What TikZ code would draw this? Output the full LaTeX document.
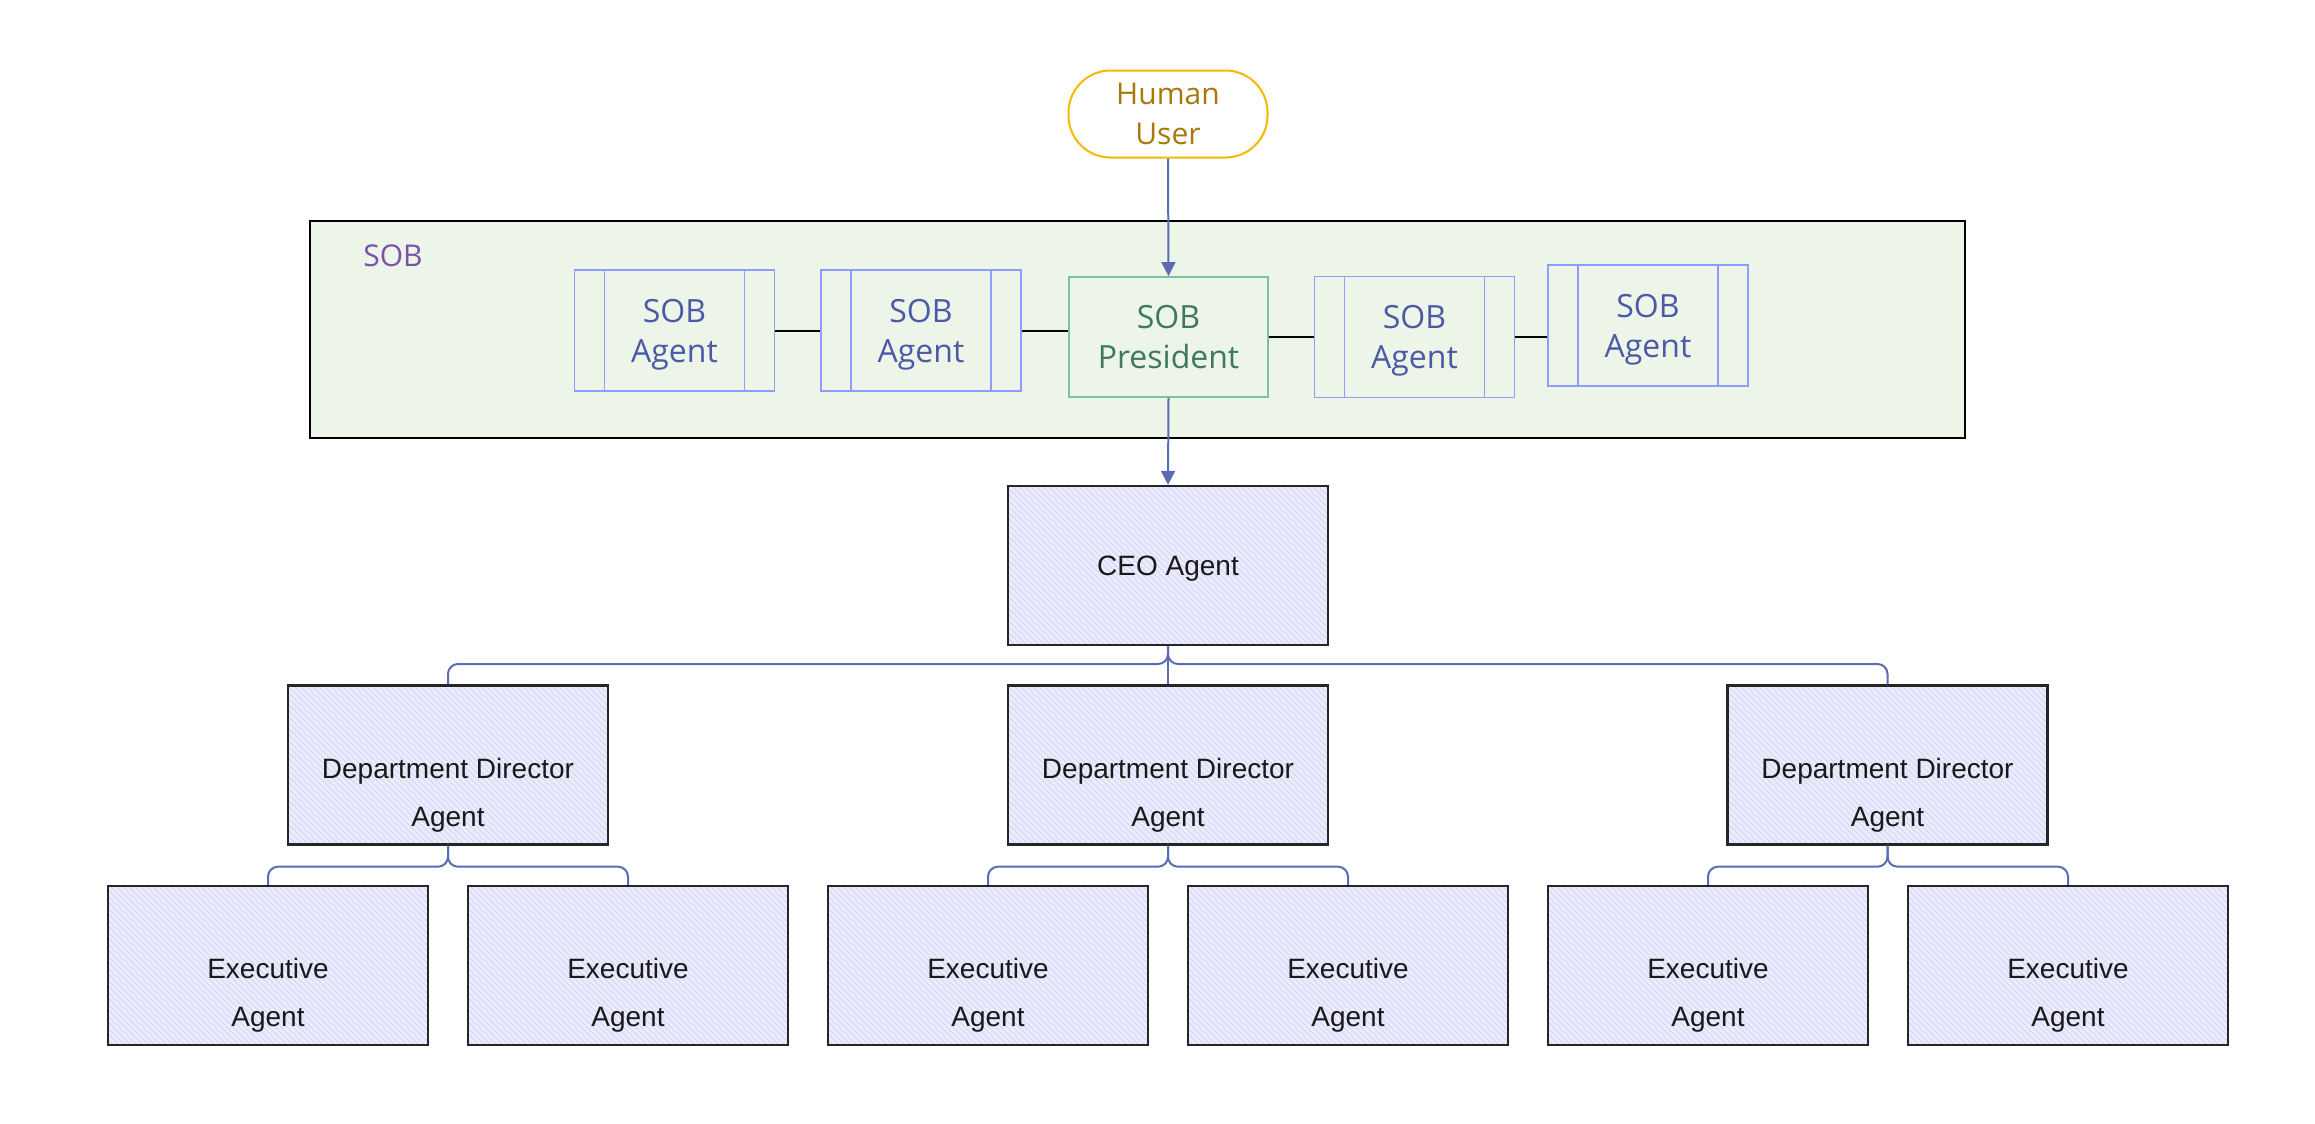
\documentclass[tikz,border=0pt]{standalone}
\usepackage{fontspec}
\setmainfont{Liberation Sans}
\newfontfamily\sobfont{Open Sans}
\usetikzlibrary{patterns,arrows.meta}
\definecolor{conn}{HTML}{5B6BB5}
\definecolor{hatchfill}{HTML}{ECECFF}
\definecolor{hatchline}{HTML}{D6D6F2}
\definecolor{agentb}{HTML}{8C9EFF}
\definecolor{agentt}{HTML}{4B5AA8}
\definecolor{presb}{HTML}{7DC2A0}
\definecolor{prest}{HTML}{3E7A5A}
\definecolor{sobfill}{HTML}{EDF5E8}
\definecolor{userb}{HTML}{F5B800}
\definecolor{usert}{HTML}{A8780A}
\definecolor{sobl}{HTML}{7B52AB}
\begin{document}
\begin{tikzpicture}[x=0.5pt,y=-0.5pt,
  hbox/.style={draw=black!85,line width=1.2pt,
    preaction={fill=hatchfill},
    preaction={pattern=north west lines,pattern color=hatchline},
    minimum width=160pt,minimum height=79.5pt,inner sep=0pt,align=center,
    font=\fontsize{14}{24}\selectfont,text=black!90},
  sag/.style={draw=agentb,line width=0.9pt,minimum width=100pt,minimum height=60.5pt,
    inner sep=0pt,align=center,font=\sobfont\fontsize{16}{20}\selectfont,text=agentt,
    path picture={\draw[agentb,line width=0.9pt]
      ([xshift=15pt]path picture bounding box.north west)--([xshift=15pt]path picture bounding box.south west)
      ([xshift=-15pt]path picture bounding box.north east)--([xshift=-15pt]path picture bounding box.south east);}},
  tree/.style={draw=conn,line width=1pt,rounded corners=5pt},
  arr/.style={draw=conn,line width=1pt,-{Triangle[length=7pt,width=7pt]}}]
\useasboundingbox (0,0) rectangle (2315,1124);
% SOB container
\node[draw=black,line width=1.2pt,fill=sobfill,minimum width=827.5pt,minimum height=108.5pt,inner sep=0pt] (sob) at (1137.5,329.5) {};
\node[font=\sobfont\fontsize{15}{18}\selectfont,text=sobl] (sobl) at (393,256) {SOB};
% human
\node[draw=userb,line width=1pt,rounded corners=21pt,minimum width=99.5pt,minimum height=43.5pt,
  inner sep=0pt,align=center,font=\sobfont\fontsize{15}{20}\selectfont,text=usert] (user) at (1168,114) {Human\\User};
% SOB agents
\node[sag,text depth=-3pt] (a1) at (674.5,330.5) {SOB\\Agent};
\node[sag,text depth=-3pt] (a2) at (921,330.5) {SOB\\Agent};
\node[draw=presb,line width=0.9pt,minimum width=99.5pt,minimum height=60pt,inner sep=0pt,align=center,
  font=\sobfont\fontsize{16}{20}\selectfont,text=prest,text depth=-3pt] (pres) at (1168.5,337) {SOB\\President};
\node[sag,text depth=-3pt] (a3) at (1414.5,337) {SOB\\Agent};
\node[sag,text depth=-3pt] (a4) at (1648,325.5) {SOB\\Agent};
\draw[black,line width=1pt] (a1.east) -- (a2.west);
\draw[black,line width=1pt] (a2.east) -- (a2.east -| pres.west);
\draw[black,line width=1pt] (pres.east) -- (a3.west);
\draw[black,line width=1pt] (a3.east) -- (a3.east -| a4.west);
\draw[arr] (user.south) -- (pres.north);
% CEO
\node[hbox,text depth=-1pt] (ceo) at (1168,565.5) {CEO Agent};
\draw[arr] (pres.south) -- (ceo.north);
% Directors
\node[hbox] (d1) at (448,765) {\mbox{}\\[16pt]Department Director\\Agent};
\node[hbox] (d2) at (1168,765) {\mbox{}\\[16pt]Department Director\\Agent};
\node[hbox] (d3) at (1887.5,765) {\mbox{}\\[16pt]Department Director\\Agent};
\coordinate (bus) at (1168,664);
\draw[tree] (ceo.south) -- (d2.north);
\draw[tree] (ceo.south) -- (bus) -- (bus -| d1.north) -- (d1.north);
\draw[tree] (ceo.south) -- (bus) -- (bus -| d3.north) -- (d3.north);
% Executives
\foreach \d/\l/\r/\xl/\xr in {d1/e1/e2/268/628, d2/e3/e4/988/1348, d3/e5/e6/1708/2068}{
  \node[hbox] (\l) at (\xl,965.5) {\mbox{}\\[16pt]Executive\\Agent};
  \node[hbox] (\r) at (\xr,965.5) {\mbox{}\\[16pt]Executive\\Agent};
  \coordinate (\d b) at ([yshift=-10.5pt]\d.south);
  \draw[tree] (\d.south) -- (\d b) -- (\d b -| \l.north) -- (\l.north);
  \draw[tree] (\d.south) -- (\d b) -- (\d b -| \r.north) -- (\r.north);
}
\end{tikzpicture}
\end{document}
